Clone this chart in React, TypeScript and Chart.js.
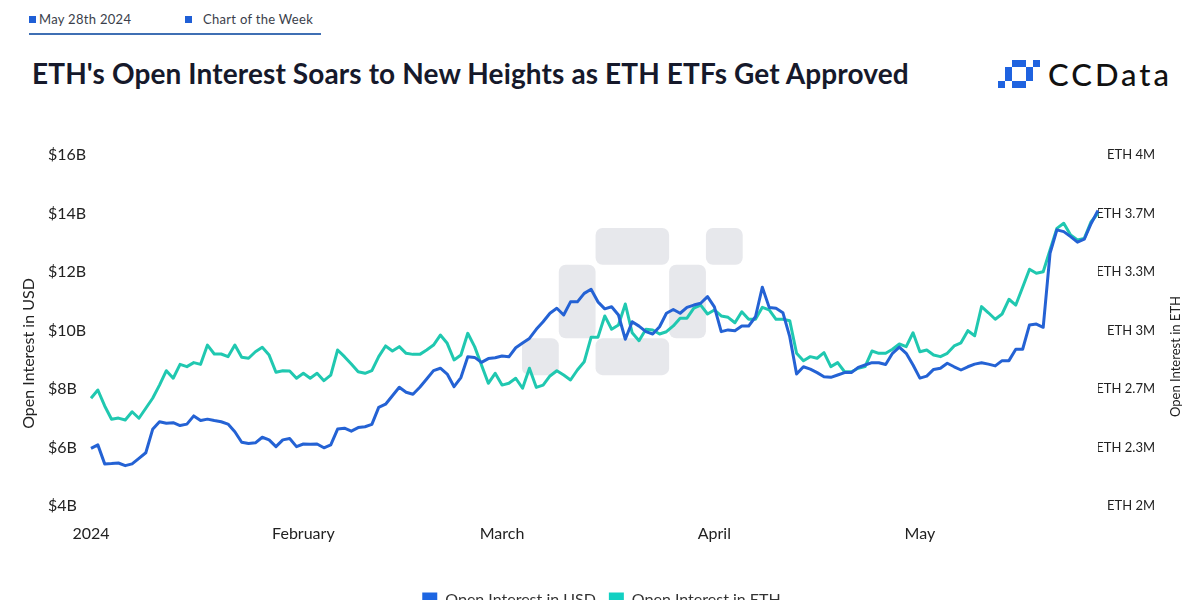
import React, { useEffect, useRef } from 'react';
import { Chart, registerables } from 'chart.js';

Chart.register(...registerables);

const FONT = 'Lato, "Noto Sans", sans-serif';

// ---- data ----
const startDate = '2024-01-01';
const dayCount = 148;

const xTickIndices = [0, 31, 60, 91, 121];
const xTickLabels = ['2024', 'February', 'March', 'April', 'May'];

const usdTicks = [4, 6, 8, 10, 12, 14, 16];
const usdTickLabels = ['$4B', '$6B', '$8B', '$10B', '$12B', '$14B', '$16B'];

const ethTicks = [2, 2.3333, 2.6667, 3, 3.3333, 3.6667, 4];
const ethTickLabels = ['ETH 2M', 'ETH 2.3M', 'ETH 2.7M', 'ETH 3M', 'ETH 3.3M', 'ETH 3.7M', 'ETH 4M'];

// Open interest in USD (billions)
const openInterestUsd = [
  5.97, 6.09, 5.44, 5.45, 5.47, 5.38, 5.44, 5.63, 5.82, 6.62,
  6.88, 6.83, 6.85, 6.75, 6.80, 7.08, 6.92, 6.97, 6.92, 6.88,
  6.80, 6.54, 6.18, 6.14, 6.16, 6.35, 6.26, 6.03, 6.26, 6.31,
  6.03, 6.12, 6.11, 6.12, 5.99, 6.09, 6.63, 6.66, 6.56, 6.68,
  6.71, 6.79, 7.37, 7.48, 7.77, 8.06, 7.89, 7.82, 8.06, 8.34,
  8.63, 8.71, 8.51, 8.08, 8.39, 9.10, 9.08, 8.91, 9.04, 9.07,
  9.13, 9.10, 9.41, 9.57, 9.73, 10.04, 10.30, 10.59, 10.76, 10.53,
  10.98, 10.98, 11.27, 11.41, 10.98, 10.74, 10.81, 10.53, 9.70, 10.30,
  10.15, 9.96, 9.88, 10.13, 10.59, 10.72, 10.59, 10.79, 10.87, 10.93,
  11.16, 10.81, 9.96, 10.02, 9.99, 10.15, 10.15, 10.47, 11.48, 10.79,
  10.76, 10.61, 9.79, 8.51, 8.76, 8.68, 8.56, 8.42, 8.40, 8.48,
  8.56, 8.56, 8.74, 8.82, 8.90, 8.90, 8.84, 9.22, 9.43, 9.22,
  8.82, 8.37, 8.44, 8.67, 8.71, 8.88, 8.76, 8.65, 8.76, 8.85,
  8.90, 8.85, 8.79, 8.97, 8.97, 9.36, 9.36, 10.19, 10.22, 10.11,
  12.64, 13.44, 13.38, 13.21, 13.02, 13.12, 13.66, 14.10,
];

// Open interest in ETH (millions)
const openInterestEth = [
  2.614, 2.661, 2.570, 2.494, 2.501, 2.490, 2.537, 2.500, 2.557, 2.614,
  2.689, 2.771, 2.728, 2.807, 2.794, 2.817, 2.807, 2.917, 2.866, 2.866,
  2.851, 2.917, 2.847, 2.842, 2.879, 2.904, 2.860, 2.762, 2.771, 2.769,
  2.728, 2.756, 2.728, 2.756, 2.714, 2.746, 2.889, 2.851, 2.809, 2.765,
  2.756, 2.771, 2.851, 2.912, 2.883, 2.908, 2.870, 2.864, 2.864, 2.889,
  2.917, 2.974, 2.927, 2.832, 2.860, 2.984, 2.908, 2.803, 2.699, 2.756,
  2.689, 2.699, 2.728, 2.671, 2.785, 2.676, 2.689, 2.741, 2.771, 2.746,
  2.718, 2.775, 2.822, 2.961, 2.961, 3.083, 3.007, 3.031, 3.151, 2.987,
  2.942, 3.007, 3.003, 2.980, 2.993, 3.026, 3.070, 3.070, 3.127, 3.145,
  3.094, 3.117, 3.083, 3.075, 3.044, 3.107, 3.064, 3.064, 3.132, 3.117,
  3.064, 3.064, 3.056, 2.870, 2.828, 2.851, 2.842, 2.874, 2.794, 2.817,
  2.765, 2.765, 2.785, 2.794, 2.883, 2.870, 2.870, 2.893, 2.923, 2.908,
  2.987, 2.879, 2.889, 2.860, 2.851, 2.870, 2.912, 2.930, 2.999, 2.970,
  3.136, 3.101, 3.064, 3.094, 3.178, 3.145, 3.246, 3.349, 3.326, 3.335,
  3.459, 3.582, 3.611, 3.544, 3.516, 3.525, 3.620, 3.668,
];

const seriesNames = ['Open Interest in USD', 'Open Interest in ETH'];
const lineColors = ['#2462d4', '#20c8b0'];
const legendColors = ['#1d66e2', '#12d0c2'];

// logo pixel blocks [col, row, w, h]
const logoBlocks: number[][] = [
  [2, 0, 2, 1],
  [5, 0, 1, 1],
  [1, 1, 1, 2],
  [4, 1, 1, 2],
  [0, 3, 1, 1],
  [2, 3, 2, 1],
];

function buildDates(): string[] {
  const out: string[] = [];
  const d0 = new Date(startDate + 'T00:00:00Z');
  for (let i = 0; i < dayCount; i++) {
    const d = new Date(d0.getTime() + i * 86400000);
    out.push(d.toISOString().slice(0, 10));
  }
  return out;
}

const decorPlugin = {
  id: 'decor',
  beforeDatasetsDraw(chart: any) {
    const { ctx, chartArea: a } = chart;
    const w = a.right - a.left;
    const h = a.bottom - a.top;
    const u = h * 0.1048;
    const ox = a.left + w * 0.428;
    const oy = a.top + h * 0.208;
    ctx.save();
    ctx.fillStyle = '#e7e8ec';
    for (const [bx, by, bw, bh] of logoBlocks) {
      ctx.beginPath();
      ctx.roundRect(ox + bx * u, oy + by * u, bw * u, bh * u, 7);
      ctx.fill();
    }
    ctx.restore();
  },
  afterDraw(chart: any) {
    const { ctx, chartArea: a } = chart;
    const midY = (a.top + a.bottom) / 2;
    ctx.save();
    ctx.fillStyle = '#222';
    ctx.textAlign = 'center';
    ctx.textBaseline = 'middle';
    // left title
    ctx.save();
    ctx.translate(a.left - 62, midY + 23);
    ctx.rotate(-Math.PI / 2);
    ctx.font = `16px ${FONT}`;
    ctx.fillText('Open Interest in USD', 0, 0);
    ctx.restore();
    // right title
    ctx.save();
    ctx.translate(a.right + 78, midY + 26);
    ctx.rotate(-Math.PI / 2);
    ctx.font = `13px ${FONT}`;
    ctx.fillText('Open Interest in ETH', 0, 0);
    ctx.restore();
    ctx.restore();
  },
};

function ChartBox() {
  const ref = useRef<HTMLCanvasElement | null>(null);
  useEffect(() => {
    if (!ref.current) return;
    Chart.defaults.font.family = FONT;
    const labels = buildDates();
    const chart = new Chart(ref.current, {
      type: 'line',
      data: {
        labels,
        datasets: [
          {
            label: seriesNames[0],
            data: openInterestUsd,
            yAxisID: 'yUsd',
            borderColor: lineColors[0],
            backgroundColor: legendColors[0],
            borderWidth: 3,
            pointRadius: 0,
            tension: 0,
            borderJoinStyle: 'round',
          },
          {
            label: seriesNames[1],
            data: openInterestEth,
            yAxisID: 'yEth',
            borderColor: lineColors[1],
            backgroundColor: legendColors[1],
            borderWidth: 3,
            pointRadius: 0,
            tension: 0,
            borderJoinStyle: 'round',
          },
        ],
      },
      options: {
        responsive: false,
        animation: false,
        layout: { padding: { left: 48, right: 45, top: 45, bottom: 0 } },
        plugins: {
          legend: {
            position: 'bottom',
            labels: {
              boxWidth: 15,
              boxHeight: 15,
              padding: 13,
              color: '#333',
              font: { size: 16, family: FONT },
              generateLabels: () =>
                seriesNames.map((n, i) => ({
                  text: n,
                  fillStyle: legendColors[i],
                  strokeStyle: legendColors[i],
                  lineWidth: 0,
                  hidden: false,
                  datasetIndex: i,
                  fontColor: '#333',
                })),
            },
          },
          tooltip: { enabled: false },
        },
        scales: {
          x: {
            type: 'category',
            grid: { display: false, drawTicks: false },
            border: { display: false },
            ticks: {
              autoSkip: false,
              maxRotation: 0,
              minRotation: 0,
              padding: 18,
              color: '#222',
              font: { size: 16 },
              callback: (_v: any, i: number) => {
                const k = xTickIndices.indexOf(i);
                return k >= 0 ? xTickLabels[k] : '';
              },
            },
            afterFit: (s: any) => {
              s.height = 73;
            },
          },
          yUsd: {
            position: 'left',
            min: 4,
            max: 16,
            grid: { display: false, drawTicks: false },
            border: { display: false },
            afterBuildTicks: (s: any) => {
              s.ticks = usdTicks.map((v) => ({ value: v }));
            },
            ticks: {
              crossAlign: 'far',
              padding: 0,
              color: '#222',
              font: { size: 16 },
              callback: (_v: any, i: number) => usdTickLabels[i],
            },
            afterFit: (s: any) => {
              s.width = 43;
            },
          },
          yEth: {
            position: 'right',
            min: 2,
            max: 4,
            grid: { display: false, drawTicks: false },
            border: { display: false },
            afterBuildTicks: (s: any) => {
              s.ticks = ethTicks.map((v) => ({ value: v }));
            },
            ticks: {
              crossAlign: 'far',
              padding: 0,
              color: '#222',
              font: { size: 13 },
              callback: (_v: any, i: number) => ethTickLabels[i],
            },
            afterFit: (s: any) => {
              s.width = 57;
            },
          },
        },
      } as any,
      plugins: [decorPlugin],
    });
    return () => chart.destroy();
  }, []);
  return (
    <canvas
      ref={ref}
      width={1200}
      height={508}
      style={{ position: 'absolute', left: 0, top: 110, width: 1200, height: 508 }}
    />
  );
}

function Logo() {
  const u = 7;
  return (
    <svg
      width={6 * u}
      height={4 * u}
      style={{ position: 'absolute', left: 998, top: 60 }}
    >
      {logoBlocks.map(([bx, by, bw, bh], i) => (
        <rect key={i} x={bx * u} y={by * u} width={bw * u} height={bh * u} fill="#1f63e0" />
      ))}
    </svg>
  );
}

export default function App() {
  useEffect(() => {
    document.body.style.margin = '0';
    document.body.style.overflow = 'hidden';
  }, []);
  const sq: React.CSSProperties = {
    position: 'absolute',
    width: 7,
    height: 7,
    background: '#1f5fd6',
  };
  const small: React.CSSProperties = {
    position: 'absolute',
    fontSize: 13,
    lineHeight: '16px',
    letterSpacing: '0.3px',
    color: '#3a3e4a',
    whiteSpace: 'nowrap',
  };
  return (
    <div
      style={{
        position: 'relative',
        width: 1200,
        height: 600,
        overflow: 'hidden',
        background: '#fff',
        fontFamily: FONT,
      }}
    >
      <div style={{ ...sq, left: 29, top: 16 }} />
      <div style={{ ...small, left: 39, top: 11 }}>May 28th 2024</div>
      <div style={{ ...sq, left: 185, top: 16 }} />
      <div style={{ ...small, left: 203, top: 11 }}>Chart of the Week</div>
      <div
        style={{
          position: 'absolute',
          left: 29,
          top: 33,
          width: 292,
          height: 1.5,
          background: '#3f6fb4',
        }}
      />
      <div
        style={{
          position: 'absolute',
          left: 32,
          top: 55,
          fontSize: 28,
          lineHeight: '36px',
          fontWeight: 700,
          letterSpacing: '0.12px',
          color: '#16192b',
          whiteSpace: 'nowrap',
        }}
      >
        ETH's Open Interest Soars to New Heights as ETH ETFs Get Approved
      </div>
      <Logo />
      <div
        style={{
          position: 'absolute',
          left: 1048,
          top: 56,
          fontSize: 31,
          lineHeight: '36px',
          fontWeight: 500,
          letterSpacing: '3px',
          color: '#111',
          whiteSpace: 'nowrap',
        }}
      >
        CCData
      </div>
      <ChartBox />
    </div>
  );
}
